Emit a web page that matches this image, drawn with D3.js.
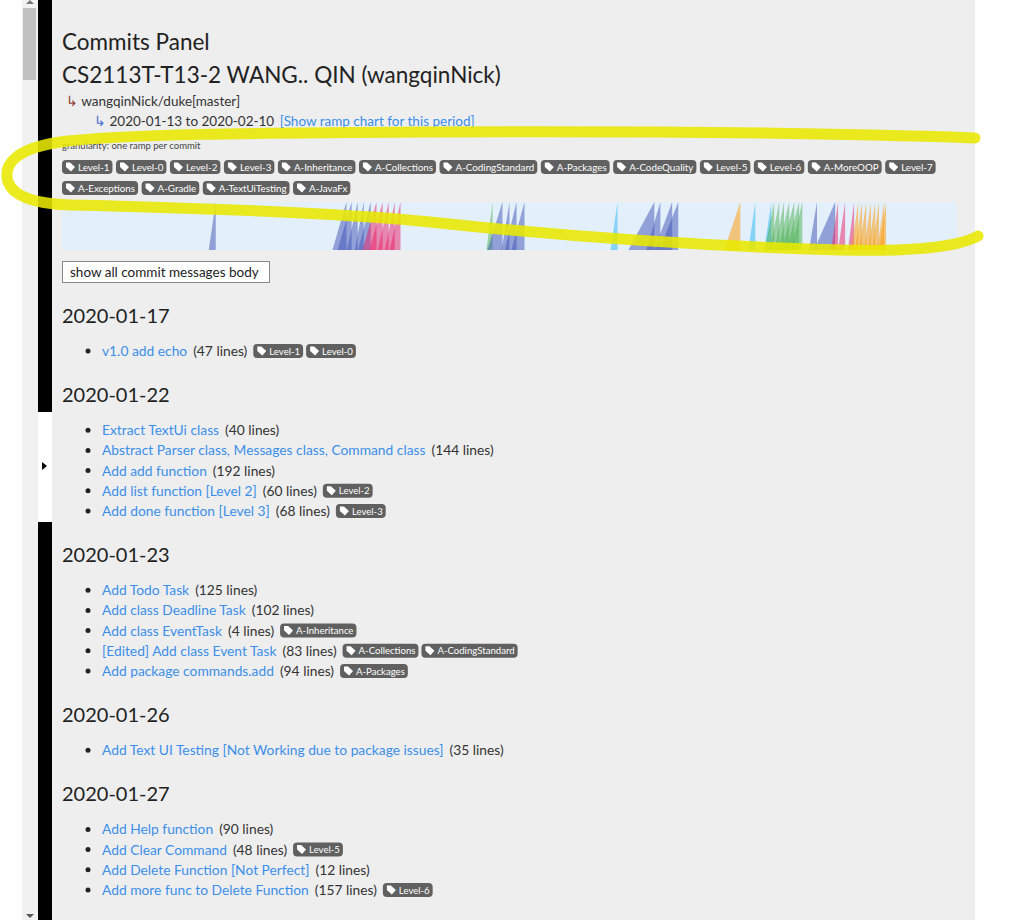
<!DOCTYPE html>
<head>
    <meta charset="utf-8" />
    <script src="https://d3js.org/d3.v7.min.js"></script>
    <style>
        body { margin: 0; background: #fff; }
        text { font-family: Lato, "Noto Sans", sans-serif; }
    </style>
</head>
<body>
<script>
    var width = 1010, height = 920;

    var tagNames = ["Level-1", "Level-0", "Level-2", "Level-3", "A-Inheritance", "A-Collections",
        "A-CodingStandard", "A-Packages", "A-CodeQuality", "Level-5", "Level-6", "A-MoreOOP", "Level-7",
        "A-Exceptions", "A-Gradle", "A-TextUiTesting", "A-JavaFx"];
    var tagRowBreak = 13;

    // ramps: [end day offset from 2020-01-13, width in days, color key]
    var rampColors = { b: "#3f51b5", p: "#e91e63", g: "#4caf50", c: "#29b6f6", o: "#ff9800" };
    var ramps = [
        [4.81, 0.22, "b"],
        [8.9, 0.44, "b"], [9.06, 0.44, "b"], [9.25, 0.34, "b"], [9.44, 0.28, "b"], [9.66, 0.4, "b"],
        [9.84, 0.44, "p"], [10.03, 0.41, "p"], [10.22, 0.34, "p"], [10.41, 0.31, "p"], [10.59, 0.34, "p"],
        [13.47, 0.19, "g"], [13.78, 0.47, "b"], [14.0, 0.25, "b"], [14.22, 0.37, "b"], [14.47, 0.41, "b"],
        [17.38, 0.22, "c"], [18.53, 0.81, "b"], [18.72, 0.44, "b"], [19.09, 0.56, "b"], [19.28, 0.59, "b"],
        [21.22, 0.5, "o"], [21.69, 0.22, "c"], [22.19, 0.22, "c"],
        [22.28, 0.3, "g"], [22.44, 0.3, "g"], [22.59, 0.3, "g"], [22.75, 0.35, "g"], [22.91, 0.4, "g"],
        [23.06, 0.4, "g"], [23.16, 0.35, "g"],
        [23.62, 0.25, "b"], [24.19, 0.66, "b"],
        [24.28, 0.22, "p"], [24.5, 0.22, "p"], [24.78, 0.19, "p"],
        [24.91, 0.22, "o"], [25.03, 0.22, "o"], [25.16, 0.22, "o"], [25.31, 0.22, "o"],
        [25.44, 0.22, "o"], [25.56, 0.22, "o"], [25.72, 0.22, "o"], [25.78, 0.22, "o"]
    ];

    var dayHeads = ["2020-01-17", "2020-01-22", "2020-01-23", "2020-01-26", "2020-01-27"];
    var commits = [
        ["2020-01-17", "v1.0 add echo", 47, ["Level-1", "Level-0"]],
        ["2020-01-22", "Extract TextUi class", 40, []],
        ["2020-01-22", "Abstract Parser class, Messages class, Command class", 144, []],
        ["2020-01-22", "Add add function", 192, []],
        ["2020-01-22", "Add list function [Level 2]", 60, ["Level-2"]],
        ["2020-01-22", "Add done function [Level 3]", 68, ["Level-3"]],
        ["2020-01-23", "Add Todo Task", 125, []],
        ["2020-01-23", "Add class Deadline Task", 102, []],
        ["2020-01-23", "Add class EventTask", 4, ["A-Inheritance"]],
        ["2020-01-23", "[Edited] Add class Event Task", 83, ["A-Collections", "A-CodingStandard"]],
        ["2020-01-23", "Add package commands.add", 94, ["A-Packages"]],
        ["2020-01-26", "Add Text UI Testing [Not Working due to package issues]", 35, []],
        ["2020-01-27", "Add Help function", 90, []],
        ["2020-01-27", "Add Clear Command", 48, ["Level-5"]],
        ["2020-01-27", "Add Delete Function [Not Perfect]", 12, []],
        ["2020-01-27", "Add more func to Delete Function", 157, ["Level-6"]]
    ];

    var svg = d3.select("body").append("svg").attr("width", width).attr("height", height);

    // page chrome
    svg.append("rect").attr("x", 22).attr("y", 0).attr("width", 16).attr("height", height).attr("fill", "#f1f1f1");
    svg.append("rect").attr("x", 23).attr("y", 8).attr("width", 13).attr("height", 72).attr("fill", "#c1c1c1");
    svg.append("path").attr("d", "M26,4 L30,0 L34,4Z").attr("fill", "#777");
    svg.append("path").attr("d", "M26,914 L30,918 L34,914Z").attr("fill", "#555");
    svg.append("rect").attr("x", 38).attr("y", 0).attr("width", 14).attr("height", height).attr("fill", "#000");
    svg.append("rect").attr("x", 38).attr("y", 412).attr("width", 14).attr("height", 110).attr("fill", "#fff");
    svg.append("path").attr("d", "M42,462 L47,466 L42,470Z").attr("fill", "#000");
    svg.append("rect").attr("x", 52).attr("y", 0).attr("width", 923).attr("height", height).attr("fill", "#eeeeee");

    // headings
    svg.append("text").attr("x", 62).attr("y", 50).attr("font-size", 22.5).attr("fill", "#222").text("Commits Panel");
    svg.append("text").attr("x", 62).attr("y", 83).attr("font-size", 22.5).attr("fill", "#222").text("CS2113T-T13-2 WANG.. QIN (wangqinNick)");
    var l1 = svg.append("text").attr("x", 66).attr("y", 106).attr("font-size", 13.5).attr("fill", "#333");
    l1.append("tspan").attr("fill", "#8b3a2a").text("↳ ");
    l1.append("tspan").text("wangqinNick/duke[master]");
    var l2 = svg.append("text").attr("x", 94).attr("y", 126).attr("font-size", 13.5).attr("fill", "#333");
    l2.append("tspan").attr("fill", "#4a6fd0").text("↳ ");
    l2.append("tspan").text("2020-01-13 to 2020-02-10 ");
    l2.append("tspan").attr("fill", "#3b8eea").attr("dx", 2).text("[Show ramp chart for this period]");
    svg.append("text").attr("x", 62).attr("y", 149).attr("font-size", 9.5).attr("fill", "#444").text("granularity: one ramp per commit");

    function drawTag(g, x, yTop, name, fs) {
        var t = g.append("g").attr("transform", "translate(" + x + "," + yTop + ")");
        var r = t.append("rect").attr("height", 14).attr("rx", 4).attr("fill", "#606060");
        // tag icon
        t.append("path").attr("d", "M4,2.5 l4,0 l5,4.5 l-4,4.5 l-5,-4.5 z").attr("fill", "#fff");
        var tx = t.append("text").attr("x", 16).attr("y", 10.5).attr("font-size", fs).attr("fill", "#fff").text(name);
        var w = tx.node().getComputedTextLength() + 19;
        r.attr("width", w);
        return w;
    }

    var tagG = svg.append("g");
    var tx0 = 62;
    tagNames.forEach(function (n, i) {
        if (i === tagRowBreak) tx0 = 62;
        var y = i < tagRowBreak ? 160 : 181;
        tx0 += drawTag(tagG, tx0, y, n, 9.8) + 3.5;
    });

    // ramp chart
    var x = d3.scaleLinear().domain([0, 28]).range([62, 957]);
    var y = d3.scaleLinear().domain([0, 1]).range([250, 202]);
    svg.append("rect").attr("x", x(0)).attr("y", y(1)).attr("width", x(28) - x(0)).attr("height", y(0) - y(1)).attr("fill", "#e3f0fb");
    svg.append("g").selectAll("path").data(ramps).join("path")
        .attr("d", function (d) {
            return "M" + x(d[0] - d[1]) + "," + y(0) + "L" + x(d[0]) + "," + y(1) + "L" + x(d[0]) + "," + y(0) + "Z";
        })
        .attr("fill", function (d) { return rampColors[d[2]]; })
        .attr("fill-opacity", 0.5);

    // button
    svg.append("rect").attr("x", 62.5).attr("y", 261.5).attr("width", 207).attr("height", 21).attr("fill", "#fff").attr("stroke", "#888");
    svg.append("text").attr("x", 70).attr("y", 276.5).attr("font-size", 13.5).attr("fill", "#222").text("show all commit messages body");

    // commit list
    var cy = 316;
    var listG = svg.append("g");
    dayHeads.forEach(function (day) {
        listG.append("text").attr("x", 62).attr("y", cy + 7).attr("font-size", 20).attr("fill", "#222").text(day);
        cy += 35;
        commits.filter(function (c) { return c[0] === day; }).forEach(function (c) {
            listG.append("circle").attr("cx", 88).attr("cy", cy).attr("r", 2.5).attr("fill", "#222");
            var t = listG.append("text").attr("x", 102).attr("y", cy + 5).attr("font-size", 13.8);
            t.append("tspan").attr("fill", "#3b8eea").text(c[1]);
            t.append("tspan").attr("fill", "#333").attr("dx", 6).text("(" + c[2] + " lines)");
            var tx = 102 + t.node().getComputedTextLength() + 12;
            c[3].forEach(function (tg) {
                tx += drawTag(listG, tx, cy - 7, tg, 9.6) + 3;
            });
            cy += 20.2;
        });
        cy += 24;
    });

    // yellow highlighter annotation
    svg.append("path")
        .attr("d", "M975,138 C800,132 600,131 420,132 C260,133 120,134 60,142 C20,148 2,162 8,182 C14,198 40,204 70,205 " +
            "C200,208 330,212 430,222 C560,236 700,246 840,250 C920,252 960,246 978,236")
        .attr("fill", "none").attr("stroke", "#e8e800").attr("stroke-width", 11).attr("stroke-opacity", 0.88)
        .attr("stroke-linecap", "round");
</script>
</body>
